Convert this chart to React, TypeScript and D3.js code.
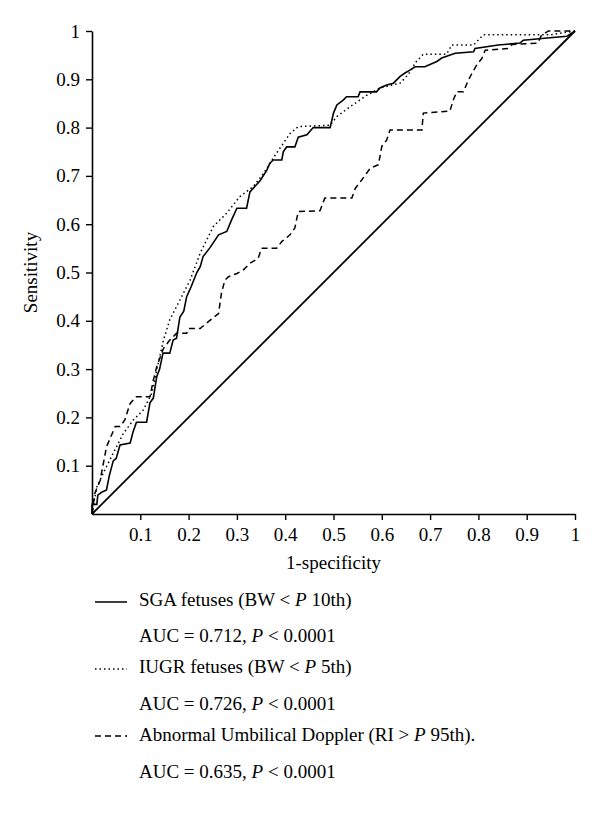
import * as d3 from 'd3';
import { useEffect, useRef } from 'react';

// ROC points [1-specificity, sensitivity]
const sgaCurve: number[][] = [
    [0, 0], [0, 0.02], [0.01, 0.02], [0.012, 0.039], [0.02, 0.045], [0.03, 0.05], [0.036, 0.08],
    [0.044, 0.11], [0.05, 0.115], [0.058, 0.143], [0.079, 0.147], [0.085, 0.17], [0.092, 0.19],
    [0.113, 0.19], [0.12, 0.23], [0.127, 0.24], [0.134, 0.284], [0.14, 0.3], [0.147, 0.333],
    [0.161, 0.333], [0.168, 0.36], [0.175, 0.364], [0.182, 0.408], [0.19, 0.42], [0.196, 0.45],
    [0.205, 0.47], [0.217, 0.5], [0.224, 0.512], [0.23, 0.533], [0.244, 0.551], [0.262, 0.578],
    [0.279, 0.585], [0.289, 0.609], [0.3, 0.633], [0.32, 0.633], [0.327, 0.667], [0.348, 0.69],
    [0.362, 0.712], [0.368, 0.726], [0.375, 0.733], [0.393, 0.733], [0.396, 0.75], [0.403, 0.76],
    [0.42, 0.76], [0.427, 0.78], [0.445, 0.785], [0.458, 0.8], [0.493, 0.8], [0.5, 0.83],
    [0.507, 0.847], [0.52, 0.857], [0.527, 0.864], [0.551, 0.864], [0.555, 0.874], [0.589, 0.874],
    [0.596, 0.882], [0.61, 0.888], [0.624, 0.892], [0.638, 0.906], [0.648, 0.913], [0.658, 0.919],
    [0.669, 0.926], [0.689, 0.926], [0.714, 0.937], [0.724, 0.944], [0.752, 0.954], [0.79, 0.957],
    [0.793, 0.964], [0.841, 0.971], [0.886, 0.975], [0.893, 0.981], [0.948, 0.986], [0.983, 0.989],
    [1, 1]
];

const iugrCurve: number[][] = [
    [0, 0], [0.005, 0.03], [0.01, 0.056], [0.023, 0.084], [0.044, 0.126], [0.065, 0.167],
    [0.086, 0.195], [0.106, 0.215], [0.124, 0.25], [0.134, 0.298], [0.148, 0.36], [0.161, 0.402],
    [0.182, 0.443], [0.203, 0.484], [0.224, 0.54], [0.251, 0.595], [0.279, 0.623], [0.306, 0.657],
    [0.334, 0.678], [0.355, 0.705], [0.382, 0.747], [0.41, 0.788], [0.427, 0.802], [0.493, 0.805],
    [0.507, 0.823], [0.534, 0.843], [0.569, 0.867], [0.596, 0.882], [0.638, 0.892], [0.655, 0.91],
    [0.67, 0.935], [0.686, 0.952], [0.734, 0.952], [0.745, 0.971], [0.79, 0.971], [0.81, 0.992],
    [0.948, 0.992], [1, 1]
];

const dopplerCurve: number[][] = [
    [0, 0], [0.006, 0.043], [0.017, 0.07], [0.03, 0.139], [0.048, 0.181], [0.058, 0.181],
    [0.068, 0.195], [0.079, 0.229], [0.092, 0.243], [0.12, 0.243], [0.127, 0.277], [0.134, 0.305],
    [0.148, 0.343], [0.161, 0.36], [0.175, 0.374], [0.196, 0.374], [0.2, 0.384], [0.224, 0.384],
    [0.237, 0.395], [0.262, 0.415], [0.268, 0.457], [0.275, 0.484], [0.282, 0.491], [0.3, 0.498],
    [0.313, 0.505], [0.327, 0.519], [0.344, 0.529], [0.351, 0.55], [0.382, 0.55], [0.393, 0.564],
    [0.41, 0.578], [0.42, 0.592], [0.427, 0.626], [0.472, 0.628], [0.482, 0.654], [0.538, 0.654],
    [0.545, 0.674], [0.558, 0.691], [0.576, 0.716], [0.593, 0.723], [0.6, 0.761], [0.61, 0.774],
    [0.617, 0.795], [0.683, 0.795], [0.686, 0.83], [0.741, 0.834], [0.748, 0.857], [0.755, 0.874],
    [0.769, 0.874], [0.779, 0.898], [0.786, 0.911], [0.796, 0.929], [0.807, 0.943], [0.814, 0.96],
    [0.862, 0.964], [0.87, 0.972], [0.923, 0.975], [0.93, 0.99], [0.945, 1], [1, 1]
];

const refLine: number[][] = [[0, 0], [1, 1]];

const tickValues = [0.1, 0.2, 0.3, 0.4, 0.5, 0.6, 0.7, 0.8, 0.9, 1];

const xLabel = '1-specificity';
const yLabel = 'Sensitivity';

const legendItems = [
    { dash: null, name: 'SGA fetuses (BW < ', tail: ' 10th)', auc: '0.712' },
    { dash: '1.5,3', name: 'IUGR fetuses (BW < ', tail: ' 5th)', auc: '0.726' },
    { dash: '6,4', name: 'Abnormal Umbilical Doppler (RI > ', tail: ' 95th).', auc: '0.635' }
];

const FONT = '"Liberation Serif", "Times New Roman", serif';
const FS = 19;

function RocChart() {
    const container = useRef(null);

    useEffect(() => {
        const width = 600, height = 813;
        const left = 92, right = 575, top = 31, bottom = 514;

        const svg = d3.select(container.current)
            .append('svg')
            .attr('width', width)
            .attr('height', height)
            .style('display', 'block')
            .style('background', '#fff');

        const x = d3.scaleLinear().domain([0, 1]).range([left, right]);
        const y = d3.scaleLinear().domain([0, 1]).range([bottom, top]);

        const styleAxis = (g: any) => {
            g.attr('font-family', FONT).attr('font-size', FS);
            g.select('.domain').attr('stroke', '#000').attr('stroke-width', 1.6);
            g.selectAll('.tick line').attr('stroke', '#000').attr('stroke-width', 1.4);
            g.selectAll('.tick text').attr('fill', '#000');
        };

        svg.append('g')
            .attr('transform', `translate(0, ${bottom})`)
            .call(d3.axisBottom(x).tickValues(tickValues).tickSize(6).tickSizeOuter(0)
                .tickPadding(8).tickFormat(d => String(d)))
            .call(styleAxis);

        svg.append('g')
            .attr('transform', `translate(${left}, 0)`)
            .call(d3.axisLeft(y).tickValues(tickValues).tickSize(6).tickSizeOuter(0)
                .tickPadding(6).tickFormat(d => String(d)))
            .call(styleAxis);

        svg.append('text')
            .attr('x', (left + right) / 2)
            .attr('y', 569)
            .attr('text-anchor', 'middle')
            .attr('font-family', FONT)
            .attr('font-size', FS)
            .text(xLabel);

        svg.append('text')
            .attr('transform', 'rotate(-90)')
            .attr('x', -(top + bottom) / 2)
            .attr('y', 37)
            .attr('text-anchor', 'middle')
            .attr('font-family', FONT)
            .attr('font-size', FS)
            .text(yLabel);

        const line = d3.line<number[]>()
            .x(d => x(d[0]))
            .y(d => y(d[1]));

        const series = [
            { data: refLine, dash: null, w: 1.8 },
            { data: dopplerCurve, dash: '6,4', w: 1.5 },
            { data: iugrCurve, dash: '1.5,3', w: 1.5 },
            { data: sgaCurve, dash: null, w: 1.6 }
        ];

        series.forEach(s => {
            svg.append('path')
                .datum(s.data)
                .attr('fill', 'none')
                .attr('stroke', '#000')
                .attr('stroke-width', s.w)
                .attr('stroke-dasharray', s.dash)
                .attr('d', line);
        });

        // legend
        const rowY = [606, 673, 741];
        const aucY = [642, 710, 778];
        const lineY = [602, 669, 736];
        legendItems.forEach((item, i) => {
            svg.append('line')
                .attr('x1', 95).attr('x2', 127)
                .attr('y1', lineY[i]).attr('y2', lineY[i])
                .attr('stroke', '#000')
                .attr('stroke-width', 1.5)
                .attr('stroke-dasharray', item.dash);

            const t = svg.append('text')
                .attr('x', 139).attr('y', rowY[i])
                .attr('font-family', FONT).attr('font-size', FS);
            t.append('tspan').text(item.name);
            t.append('tspan').attr('font-style', 'italic').text('P');
            t.append('tspan').text(item.tail);

            const a = svg.append('text')
                .attr('x', 139).attr('y', aucY[i])
                .attr('font-family', FONT).attr('font-size', FS);
            a.append('tspan').text(`AUC = ${item.auc}, `);
            a.append('tspan').attr('font-style', 'italic').text('P');
            a.append('tspan').text(' < 0.0001');
        });

        return () => {
            svg.remove();
        };
    }, []);

    return <div ref={container} style={{ position: 'absolute', left: 0, top: 0 }} />;
}

export default function App() {
    return <RocChart />;
}
